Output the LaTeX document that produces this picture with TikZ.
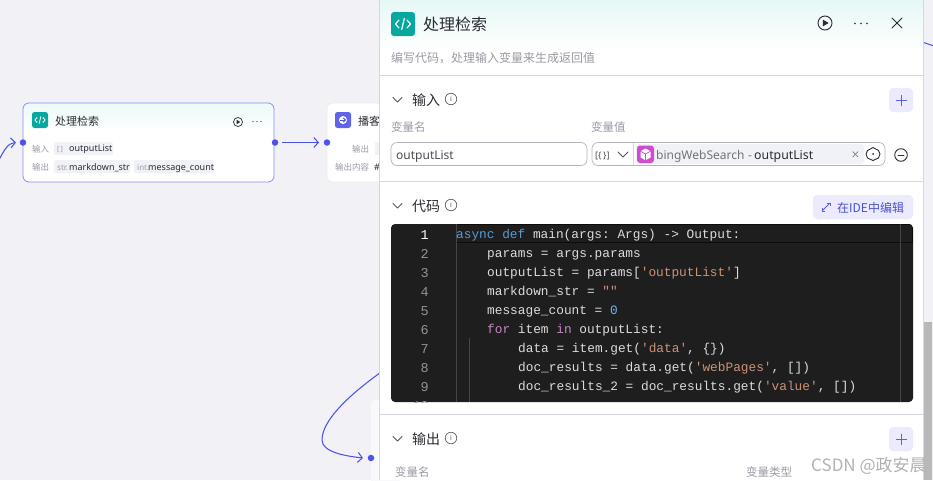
\documentclass[tikz,border=0pt]{standalone}
\usepackage{fontspec}
\setmainfont{Noto Sans}
\setmonofont{Liberation Mono}
\newfontfamily\cjk{Noto Sans CJK SC}
\usetikzlibrary{arrows.meta}
\definecolor{bgc}{HTML}{F1F1F6}
\definecolor{edgeb}{HTML}{4D53E8}
\definecolor{nodeb}{HTML}{8A8CF5}
\definecolor{teal1}{HTML}{05A79F}
\definecolor{tealbg}{HTML}{E6F8F6}
\definecolor{tealbgb}{HTML}{ECFAF8}
\definecolor{ink}{HTML}{2B2B33}
\definecolor{mut}{HTML}{9A9AA6}
\definecolor{line1}{HTML}{D6D6E2}
\definecolor{chip}{HTML}{F1F1F8}
\definecolor{btn}{HTML}{EBEBFD}
\definecolor{btnt}{HTML}{5A5FF0}
\definecolor{kw}{HTML}{569CD6}
\definecolor{kp}{HTML}{C586C0}
\definecolor{st}{HTML}{CE9178}
\definecolor{cd}{HTML}{DCDCDC}
\definecolor{num}{HTML}{6FB3F2}
\definecolor{codebg}{HTML}{1E1E1E}
\tikzset{
 txt/.style={inner sep=0pt,anchor=base west,text=ink,font=\cjk},
 lab/.style={inner sep=0pt,anchor=base west,text=mut,font=\cjk\fontsize{9}{9}\selectfont},
 chiptext/.style={inner sep=0pt,anchor=base west,text=ink,font=\fontsize{9}{9}\selectfont},
 sect/.style={inner sep=0pt,anchor=base west,text=ink,font=\cjk\fontsize{14}{14}\selectfont},
 cl/.style={inner sep=0pt,anchor=base west,text=cd,font=\ttfamily\fontsize{12.8}{12.8}\selectfont},
 ln/.style={inner sep=0pt,anchor=base east,text=gray!85,font=\ttfamily\fontsize{13.5}{13.5}\selectfont},
 port/.style={circle,fill=edgeb,draw=none,minimum size=6.5pt,inner sep=0pt},
 edge/.style={draw=edgeb,line width=1.05pt,-{Straight Barb[length=4.5pt,width=10pt,line width=1.05pt]}},
 plusbtn/.style={rounded corners=4pt,fill=btn,draw=none},
 iconl/.style={draw=ink,line width=1pt,line cap=round,line join=round},
 chev/.style={draw=ink!80,line width=1pt,line cap=round,line join=round},
 codeglyph/.style={draw=white,line cap=round,line join=round},
 info/.style={circle,draw=ink!75,line width=.7pt,minimum size=11.5pt,inner sep=0pt,font=\fontsize{7}{7}\selectfont,text=ink!80},
}
\begin{document}
\begin{tikzpicture}[x=1pt,y=-1pt]
\useasboundingbox (0,0) rectangle (933,480);
\fill[bgc] (0,0) rectangle (933,480);
% dotted grid
\foreach \i in {0,...,18}{\foreach \j in {0,...,34}{
  \fill[black!8] ({10+\i*21},{6+\j*14}) circle (.5pt);}}
% behind-panel node
\fill[white!60!bgc,rounded corners=4pt] (371,400) rectangle (400,490);
\coordinate (p3in) at (371,458);
% node 1
\fill[white,rounded corners=6pt] (23,103) rectangle (274,182);
\shade[top color=tealbgb,bottom color=white,rounded corners=6pt] (23.4,103.4) rectangle (273.6,136);
\fill[white] (23.6,128) rectangle (273.4,137);
\draw[nodeb,line width=.8pt,rounded corners=6pt] (23,103) rectangle (274,182);
\node[port] (n1in) at (23,142.5) {};
\node[port] (n1out) at (275,142.5) {};
\fill[teal1,rounded corners=2.5pt] (32,112) rectangle (48,128);
\draw[codeglyph,line width=.8pt] (37.2,117.5)--(34.8,120)--(37.2,122.5) (42.8,117.5)--(45.2,120)--(42.8,122.5) (40.8,116.5)--(39.2,123.5);
\node[txt,font=\cjk\fontsize{11}{11}\selectfont] (n1t) at (55,125) {处理检索};
\draw[iconl,line width=.7pt] (238,122) circle (4.5pt);
\fill[ink] (236.6,119.8)--(240.3,122)--(236.6,124.2)--cycle;
\foreach \x in {253,257,261}{\fill[ink] (\x,121.5) circle (.6pt);}
\node[lab,font=\cjk\fontsize{8.5}{8.5}\selectfont] (n1a) at (32,152) {输入};
\node[lab,font=\cjk\fontsize{8.5}{8.5}\selectfont] (n1b) at (32,170) {输出};
\fill[chip,rounded corners=2pt] (54,142) rectangle (113,155);
\node[lab,font=\fontsize{7}{7}\selectfont] (n1c) at (57,151.5) {[\,]};
\node[chiptext] (n1d) at (69,151.5) {outputList};
\fill[chip,rounded corners=2pt] (54,160) rectangle (130,173);
\node[lab,font=\fontsize{8}{8}\selectfont] (n1e) at (57,170) {str.};
\node[chiptext] (n1f) at (69,170) {markdown\_str};
\fill[chip,rounded corners=2pt] (134,160) rectangle (214,173);
\node[lab,font=\fontsize{8}{8}\selectfont] (n1g) at (137,170) {int.};
\node[chiptext] (n1h) at (148,170) {message\_count};
% node 2
\path[draw=black!7,line width=.6pt,fill=white,rounded corners=6pt] (327,103) rectangle (395,182);
\node[port] (n2in) at (327,142.5) {};
\fill[edgeb!90!white,rounded corners=2.5pt] (335,112) rectangle (351,128);
\fill[white] (343,120) circle (4pt);
\draw[edgeb,line width=.9pt,-{Straight Barb[length=2pt,width=4pt]}] (340,120)--(346,120);
\node[txt,font=\cjk\fontsize{11}{11}\selectfont] (n2t) at (358,125) {播客};
\node[lab,font=\cjk\fontsize{8.5}{8.5}\selectfont] (n2a) at (352,152) {输出};
\node[lab,font=\cjk\fontsize{8.5}{8.5}\selectfont] (n2b) at (335,170) {输出内容};
\node[chiptext] (n2c) at (374,170) {\#};
\fill[chip] (375,142) rectangle (380,155);
% connectors
\node[port] (p3) at (p3in) {};
\coordinate (e0s) at (-2,162);
\draw[edge] (e0s) .. controls (4,150) and (8,143) .. ([xshift=-7pt]n1in.center);
\draw[edge] ([xshift=7pt]n1out.center) -- ([xshift=-8pt]n2in.center);
\coordinate (e3s) at (384,370);
\coordinate (e3c) at (322,440);
\draw[edge] (e3s) .. controls (350,394) and (322,420) .. (e3c) .. controls (322,452) and (345,456) .. ([xshift=-8pt]p3.center);
\coordinate (e4s) at (922,42);
\coordinate (e4e) at (934,46);
\draw[edgeb,line width=1pt] (e4s) -- (e4e);
% panel
\fill[white] (379,0) rectangle (923,480);
\shade[top color=tealbg,bottom color=white] (379,0) rectangle (923,50);
\draw[line1,line width=.6pt] (379,0) -- (379,480);
\draw[line1,line width=.5pt] (923,0) -- (923,480);
\fill[black!28] (924,322) rectangle (932,480);
% panel head
\fill[teal1,rounded corners=3pt] (391,12) rectangle (415,36);
\draw[codeglyph,line width=1.2pt] (399,20)--(395.5,24)--(399,28) (407,20)--(410.5,24)--(407,28) (404.3,18.5)--(401.7,29.5);
\node[txt,font=\cjk\fontsize{16}{16}\selectfont] (pt) at (423,30) {处理检索};
\draw[iconl,line width=.9pt] (825,23) circle (7pt);
\fill[ink] (822.8,19.6)--(828.6,23)--(822.8,26.4)--cycle;
\foreach \x in {855,861,867}{\fill[ink] (\x,23.5) circle (.9pt);}
\draw[iconl] (892,18)--(902,28) (902,18)--(892,28);
\node[txt,text=mut,font=\cjk\fontsize{12}{12}\selectfont] (psub) at (391,62) {编写代码，处理输入变量来生成返回值};
\draw[line1,line width=.8pt] (379,75) -- (923,75);
\draw[line1,line width=.8pt] (379,181.5) -- (923,181.5);
\draw[line1,line width=.8pt] (379,414) -- (923,414);
% input section
\draw[chev] (393,97.5)--(397.5,102)--(402,97.5);
\node[sect] (sin) at (412,105) {输入};
\node[info] (iin) at (451,99) {i};
\fill[plusbtn] (889,88) rectangle (913,112);
\draw[btnt,line width=.9pt] (901,94.5)--(901,105.5) (895.5,100)--(906.5,100);
\node[lab,font=\cjk\fontsize{11.5}{11.5}\selectfont] (lv1) at (391,131) {变量名};
\node[lab,font=\cjk\fontsize{11.5}{11.5}\selectfont] (lv2) at (591,131) {变量值};
\draw[line1!80!black!90,line width=.7pt,rounded corners=6pt] (391,142.5) rectangle (587,165.5);
\node[chiptext,text=ink!85,font=\fontsize{12}{12}\selectfont] (vn) at (396,159) {outputList};
\draw[line1!80!black!90,line width=.7pt,rounded corners=6pt] (592,142.5) rectangle (885,165.5);
\draw[line1,line width=.6pt] (633,143)--(633,165);
\node[chiptext,text=ink!85,font=\fontsize{9}{9}\selectfont] (vty) at (595,158) {[\{\,\}]};
\draw[chev] (618,152)--(623,157)--(628,152);
\fill[chip,rounded corners=3pt] (636,144) rectangle (864,164);
\fill[violet!55!magenta!70!white,rounded corners=3pt] (637,145.5) rectangle (654,163);
\fill[white] (645.5,148.5)--(650.5,151.2)--(650.5,157.5)--(645.5,160.2)--(640.5,157.5)--(640.5,151.2)--cycle;
\draw[violet!55!magenta!70!white,line width=.7pt] (640.5,151.2)--(645.5,154)--(650.5,151.2) (645.5,154)--(645.5,160.2);
\node[chiptext,text=black!55,font=\fontsize{12}{12}\selectfont] (vb) at (656,159) {bingWebSearch};
\node[chiptext,text=black!55,font=\fontsize{12}{12}\selectfont] (vd) at (748,159) {-};
\node[chiptext,font=\fontsize{12.3}{12.3}\selectfont\bfseries] (vo) at (754,159) {outputList};
\draw[black!50,line width=.7pt] (852.5,151.5)--(858,157) (858,151.5)--(852.5,157);
\draw[iconl,line width=.9pt] (873,147.5)--(878.5,150.5)--(880,154)--(878.5,158)--(873,160.5)--(867.5,158)--(866,154)--(867.5,150.5)--cycle;
\fill[ink] (873,154) circle (1pt);
\draw[iconl,line width=.9pt] (901,155) circle (6.3pt);
\draw[iconl,line width=.9pt] (898,155)--(904,155);
% code section
\draw[chev] (393,203.5)--(397.5,208)--(402,203.5);
\node[sect] (scd) at (412,211) {代码};
\node[info] (icd) at (451,205) {i};
\fill[plusbtn] (813,195) rectangle (913,219);
\draw[btnt,line width=.9pt] (822,211)--(830,203);
\draw[btnt,line width=.9pt] (822,208)--(822,211)--(825,211) (827,203)--(830,203)--(830,206);
\node[inner sep=0pt,anchor=base west,text=btnt!85!black,font=\cjk\fontsize{12}{12}\selectfont] (ide) at (837,212) {在IDE中编辑};
% code
\fill[codebg,rounded corners=4pt] (391,224) rectangle (913,402);
\begin{scope}
\clip[rounded corners=4pt] (391,224) rectangle (913,402);
\draw[black!60!codebg,line width=.6pt] (456,224.5) rectangle (912,242);
\draw[white!18!codebg,line width=.6pt] (456,224)--(456,402) (469,338)--(469,402) (900,224)--(900,402);
\foreach \n/\y in {2/258,3/277,4/296,5/315,6/334,7/353,8/372,9/391,10/410}{
  \node[ln] (num\n) at (429,\y) {\n};}
\node[ln,text=white] (num1) at (429,239) {1};
\node[cl] (c1) at (456,238) {\textcolor{kw}{async def} main(args: Args) -> Output:};
\node[cl] (c2) at (487,257) {params = args.params};
\node[cl] (c3) at (487,276) {outputList = params[\textcolor{st}{'outputList'}]};
\node[cl] (c4) at (487,295) {markdown\_str = \textcolor{st}{""}};
\node[cl] (c5) at (487,314) {message\_count = \textcolor{num}{0}};
\node[cl] (c6) at (487,333) {\textcolor{kp}{for} item \textcolor{kp}{in} outputList:};
\node[cl] (c7) at (518,352) {data = item.get(\textcolor{st}{'data'}, \{\})};
\node[cl] (c8) at (518,371) {doc\_results = data.get(\textcolor{st}{'webPages'}, [])};
\node[cl] (c9) at (518,390) {doc\_results\_2 = doc\_results.get(\textcolor{st}{'value'}, [])};
\end{scope}
% output section
\draw[chev] (393,436.5)--(397.5,441)--(402,436.5);
\node[sect] (sout) at (412,444) {输出};
\node[info] (iout) at (451,438) {i};
\fill[plusbtn] (889,427) rectangle (913,451);
\draw[btnt,line width=.9pt] (901,433.5)--(901,444.5) (895.5,439)--(906.5,439);
\node[lab,font=\cjk\fontsize{11.5}{11.5}\selectfont] (lo1) at (395,476) {变量名};
\node[lab,font=\cjk\fontsize{11.5}{11.5}\selectfont] (lo2) at (746,476) {变量类型};
\node[inner sep=0pt,anchor=base west,text=black!30,font=\cjk\fontsize{17}{17}\selectfont] (wm) at (811,471) {CSDN @政安晨};
\end{tikzpicture}
\end{document}
